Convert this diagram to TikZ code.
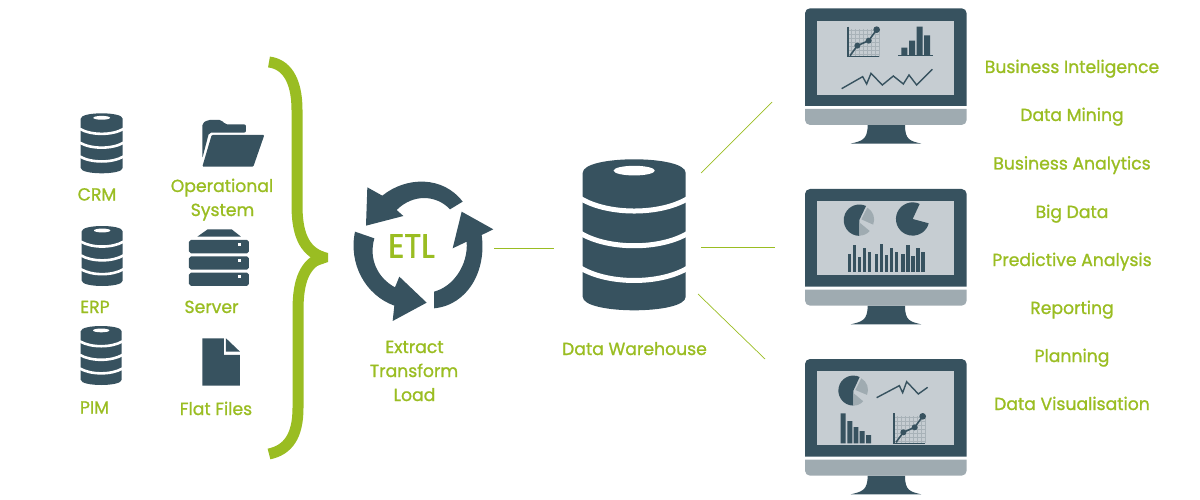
\documentclass[tikz,border=0pt]{standalone}
\usepackage{fontspec}
\setmainfont[FakeStretch=0.985,FakeBold=1.1]{Poppins}
\newfontfamily\etlfont[FakeStretch=0.95,FakeBold=1.8]{Poppins}
\definecolor{dk}{HTML}{37525F}
\definecolor{gn}{HTML}{9ABD22}
\definecolor{scr}{HTML}{C6CDD2}
\definecolor{gy}{HTML}{9FABB1}
\definecolor{gridc}{HTML}{A8B2B8}
\tikzset{
 lab/.style={text=gn,font=\fontsize{17.5}{20}\selectfont,inner sep=0pt,align=center,anchor=base},
 link/.style={draw=gn,line width=.7pt},
 brace/.style={draw=gn,line width=11pt,line cap=butt},
 zm/.style={x=.33333pt,y=-.33333pt},
}
% normalised database cylinder: x, y, w, h, band width
\newcommand\dbicon[5]{%
\begin{scope}[xshift=#1pt,yshift=-#2pt,x=#3pt,y=-#4pt]
 \fill[dk] (0,.09) .. controls (0,-.03) and (1,-.03) .. (1,.09) -- (1,.91) .. controls (1,1.03) and (0,1.03) .. (0,.91) -- cycle;
 \fill[white] (.5,.075) ellipse[x radius=.2,y radius=.032];
 \foreach \yy in {.26,.49,.72}
  \draw[white,line width=#5pt] (-.02,\yy) .. controls (.25,\yy+.11) and (.75,\yy+.11) .. (1.02,\yy);
\end{scope}}
% monitor frame with top-left corner at px position
\newcommand\monframe[2]{%
\begin{scope}[xshift=#1pt,yshift=-#2pt,zm]
 \fill[dk] (188,350) .. controls (188,395) and (170,398) .. (137,406) -- (349,406) .. controls (315,398) and (300,395) .. (300,350) -- cycle;
 \fill[gy] (0,302) -- (485,302) -- (485,335) arc[start angle=0,end angle=90,radius=15] -- (15,350) arc[start angle=90,end angle=180,radius=15] -- cycle;
 \fill[dk] (0,293) -- (0,15) arc[start angle=180,end angle=270,radius=15] -- (470,0) arc[start angle=270,end angle=360,radius=15] -- (485,293) -- cycle;
 \fill[scr] (37,37) rectangle (448,259);
\end{scope}}
% small line chart in zoom units, at (#1,#2)
\newcommand\chartico[2]{%
\begin{scope}[shift={(#1,#2)}]
 \foreach \gx in {12,24,...,96} \draw[gridc,line width=.8pt] (\gx,8) -- (\gx,90);
 \foreach \gy in {12,24,...,84} \draw[gridc,line width=.8pt] (0,\gy) -- (96,\gy);
 \draw[dk,line width=1.5pt] (2,0) -- (2,90) -- (96,90);
 \draw[dk,line width=1.6pt] (8,87) -- (30,57) -- (64,42) -- (88,9);
 \fill[dk] (30,57) circle[radius=9] (64,42) circle[radius=9] (88,9) circle[radius=10];
\end{scope}}
\begin{document}
\begin{tikzpicture}[x=1pt,y=-1pt]
\useasboundingbox (0,0) rectangle (1200,500);
% ---- sources
\dbicon{80.7}{113.3}{42}{60}{2.6}
\dbicon{81.7}{226}{41}{60}{2.6}
\dbicon{80.7}{326}{41}{59}{2.6}
\begin{scope}[xshift=60pt,yshift=-100pt,zm]
 % folder
 \fill[dk,rounded corners=2pt] (427,175) -- (427,70) -- (443,60) -- (485,60) -- (495,73) -- (558,73) -- (558,98) -- (447,98) -- cycle;
 \fill[dk,rounded corners=1pt] (455,105) -- (613,105) -- (580,200) -- (427,200) -- cycle;
 % server
 \fill[dk] (412,410) -- (443,388) -- (515,388) -- (543,410) -- cycle;
 \foreach \sy in {420,469,518}{
  \fill[dk] (387,\sy+6) -- (393,\sy) -- (561,\sy) -- (567,\sy+6) -- (567,\sy+34) -- (561,\sy+40) -- (393,\sy+40) -- (387,\sy+34) -- cycle;
  \fill[white] (534,\sy+8) rectangle (543,\sy+17);}
 % file
 \fill[dk] (427,715) -- (492,715) -- (492,765) -- (540,765) -- (540,857) -- (427,857) -- cycle;
 \fill[dk] (498,715) -- (540,755) -- (498,755) -- cycle;
\end{scope}
% ---- brace
\draw[brace] (269,62) .. controls (285,64) and (297,78) .. (297,110) -- (297,205) .. controls (297,232) and (303,250) .. (322,257);
\draw[brace] (322,257) .. controls (305,264) and (298,280) .. (298,310) -- (298,408) .. controls (298,436) and (288,450) .. (269,454);
\fill[gn] (311,248) -- (328,253) -- (328,262) -- (311,268) -- cycle;
% ---- ETL
\begin{scope}[xshift=340pt,yshift=-150pt,zm]
 \fill[dk] (368,155) .. controls (310,78) and (200,78) .. (127,137) -- (82,112) -- (78,227) -- (190,198) -- (170,180) .. controls (220,130) and (290,135) .. (330,178) -- cycle;
 \fill[dk] (45,245) .. controls (25,340) and (75,435) .. (163,467) -- (158,513) -- (260,458) -- (178,380) -- (165,412) .. controls (115,385) and (85,330) .. (103,265) -- cycle;
 \fill[dk] (282,475) .. controls (385,465) and (440,360) .. (425,255) -- (460,238) -- (365,185) -- (338,295) -- (380,275) .. controls (385,345) and (340,410) .. (282,425) -- cycle;
\end{scope}
% ---- warehouse
\dbicon{582.7}{159.3}{103}{151}{5}
% ---- monitors
\monframe{805}{8.3}
\monframe{805}{189}
\monframe{805}{359}
% monitor 1 contents
\begin{scope}[xshift=790pt,yshift=0pt,zm]
 \chartico{172}{80}
 \draw[dk,line width=1.5pt] (325,166) -- (430,166);
 \fill[dk] (334,143) rectangle (352,165) (357,122) rectangle (375,165) (380,80) rectangle (398,165) (402,106) rectangle (420,165);
 \draw[dk,line width=1.4pt] (155,266) -- (218,230) -- (230,252) -- (243,220) -- (277,255) -- (310,228) -- (340,252) -- (357,225) -- (380,255) -- (427,208);
\end{scope}
% monitor 2 contents
\begin{scope}[xshift=790pt,yshift=-175pt,zm]
 \fill[dk] (208,135) -- (228,93) arc[start angle=-65,end angle=-270,radius=47] -- cycle;
 \fill[gy] (214,133) -- (232,98) arc[start angle=-60,end angle=22,radius=41] -- cycle;
 \fill[gy] (208,142) -- (208,182) arc[start angle=90,end angle=42,radius=42] -- cycle;
 \fill[dk] (368,132) -- (389,86.7) arc[start angle=-65,end angle=-345,radius=50] -- cycle;
 \foreach \bx/\bt in {174/237,189/210,204/245,219/218,234/232,254/237,269/208,284/240,299/218,314/230,334/237,349/210,364/243,379/218,394/232}
  \fill[dk] (\bx,\bt) rectangle (\bx+10,291);
\end{scope}
% monitor 3 contents
\begin{scope}[xshift=790pt,yshift=-345pt,zm]
 \fill[dk] (190,137) -- (209,96) arc[start angle=-65,end angle=-270,radius=45] -- cycle;
 \fill[gy] (196,135) -- (214,100) arc[start angle=-60,end angle=22,radius=40] -- cycle;
 \fill[gy] (190,144) -- (190,182) arc[start angle=90,end angle=42,radius=40] -- cycle;
 \draw[dk,line width=1.4pt] (260,158) -- (328,122) -- (338,143) -- (350,110) -- (385,147) -- (413,127);
 \fill[dk] (152,205) rectangle (167,295) (172,228) rectangle (187,295) (191,246) rectangle (205,295) (209,258) rectangle (224,295) (228,270) rectangle (243,295);
 \chartico{310}{205}
\end{scope}
% ---- connectors
\coordinate (etlout) at (494,248);
\coordinate (dwin) at (554,248);
\coordinate (dwa) at (701,173);
\coordinate (ma) at (772,102);
\coordinate (dwb) at (701,247);
\coordinate (mb) at (775,247);
\coordinate (dwc) at (698,294);
\coordinate (mc) at (765,359);
\draw[link] (etlout) -- (dwin);
\draw[link] (dwa) -- (ma);
\draw[link] (dwb) -- (mb);
\draw[link] (dwc) -- (mc);
% ---- labels (positioned on their baselines)
\node[lab] (crm) at (97,200.5) {CRM};
\node[lab] (erp) at (95,313) {ERP};
\node[lab] (pim) at (94.5,413.5) {PIM};
\node[lab] (op1) at (222,192) {Operational};
\node[lab] (op2) at (222.5,216) {System};
\node[lab] (srv) at (211.5,313) {Server};
\node[lab] (ff) at (216,415) {Flat Files};
\node[lab,font=\fontsize{33}{36}\etlfont] (etl) at (411.5,257.5) {ETL};
\node[lab] (ex) at (414.5,353) {Extract};
\node[lab] (tr) at (414,377) {Transform};
\node[lab] (lo) at (414.5,401) {Load};
\node[lab] (dw) at (634.5,355) {Data Warehouse};
\node[lab] (r1) at (1072,73) {Business Inteligence};
\node[lab] (r2) at (1072,121) {Data Mining};
\node[lab] (r3) at (1072,169.5) {Business Analytics};
\node[lab] (r4) at (1072,218) {Big Data};
\node[lab] (r5) at (1072,266) {Predictive Analysis};
\node[lab] (r6) at (1072,314) {Reporting};
\node[lab] (r7) at (1072,362) {Planning};
\node[lab] (r8) at (1072,410) {Data Visualisation};
\end{tikzpicture}
\end{document}
